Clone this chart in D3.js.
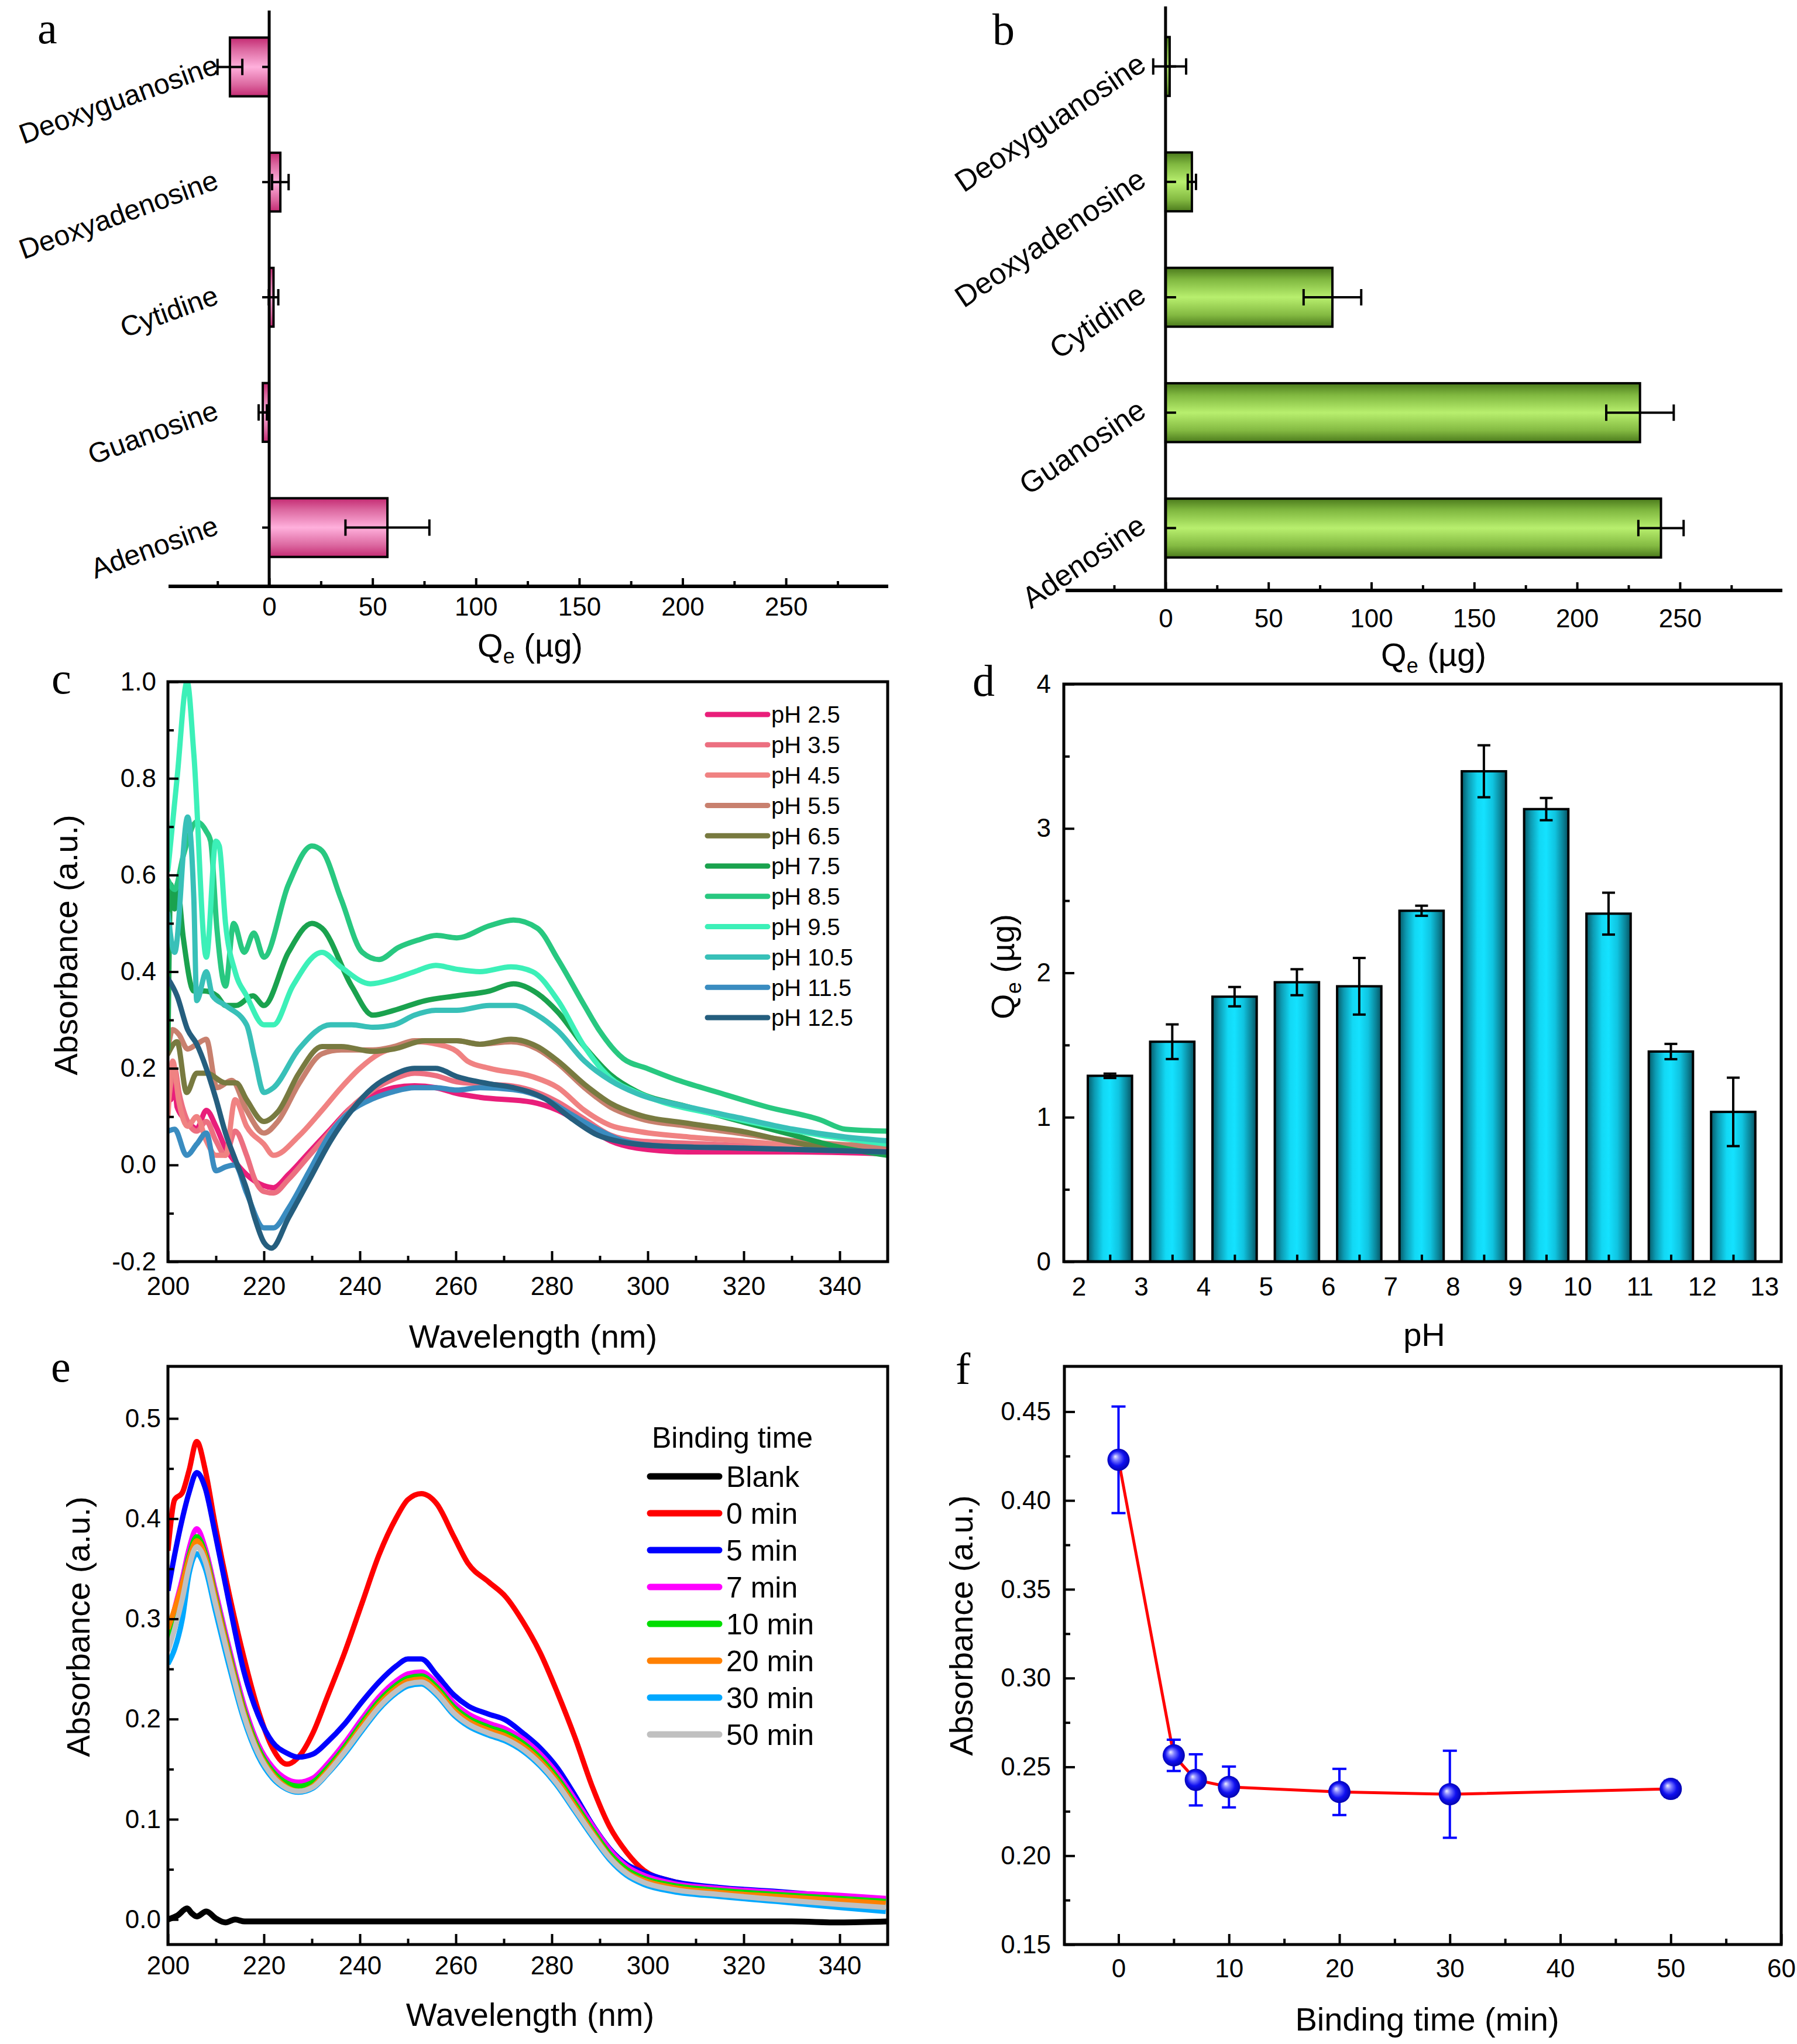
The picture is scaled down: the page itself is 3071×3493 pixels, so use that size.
<!DOCTYPE html>
<html><head><meta charset="utf-8">
<script src="https://cdn.jsdelivr.net/npm/d3@7"></script>
<style>body{margin:0;background:#fff}</style>
</head><body>
<svg id="chart" width="3071" height="3493" xmlns="http://www.w3.org/2000/svg"></svg>
<script>
// ---------------- DATA ----------------
const nucleosides = ["Deoxyguanosine","Deoxyadenosine","Cytidine","Guanosine","Adenosine"];
const qeA  = [-19, 5.4, 2.1, -3.1, 57.2];
const errA = [6, 4, 2.3, 2, 20.3];
const qeB  = [2, 12.8, 81.1, 230.6, 240.8];
const errB = [8, 2, 14, 16.4, 11];
const qeTicks = [0, 50, 100, 150, 200, 250];

const pHValues = [2.5,3.5,4.5,5.5,6.5,7.5,8.5,9.5,10.5,11.5,12.5];
const qePH  = [1.287,1.523,1.835,1.935,1.907,2.43,3.396,3.134,2.41,1.455,1.037];
const errPH = [0.015,0.12,0.067,0.09,0.196,0.035,0.18,0.077,0.145,0.053,0.237];
const pHTicks = [2,3,4,5,6,7,8,9,10,11,12,13];

const bindingTimes = [0,5,7,10,20,30,50];
const absTime = [0.4229,0.2565,0.2427,0.2387,0.2359,0.2346,0.2376];
const errTime = [0.03,0.0088,0.0144,0.0115,0.013,0.0245,0.0045];

// panel c spectra [wavelength, absorbance]
const ph25 = [[200,0.145],[200.6,0.135],[201.4,0.17],[201.9,0.12],[204.1,0.09],[206,0.075],[208,0.113],[210,0.08],[212,0.035],[214.2,0.004],[216.4,-0.02],[220,-0.043],[222,-0.047],[225.1,-0.02],[229.5,0.027],[233.9,0.074],[238.3,0.12],[242.7,0.145],[247.1,0.16],[251.4,0.164],[255.8,0.16],[260.2,0.148],[265,0.14],[275.9,0.13],[281.3,0.113],[286.8,0.082],[292.2,0.05],[297.7,0.035],[308.5,0.027],[330,0.027],[350,0.023]];
const ph35 = [[200,0.12],[201.4,0.2],[202.3,0.15],[204.1,0.09],[206,0.07],[208,0.09],[210,0.05],[212,0.02],[214,0.07],[216.4,0.02],[218.1,-0.03],[220,-0.055],[222,-0.058],[225.1,-0.03],[229.5,0.02],[233.9,0.07],[238.3,0.12],[242.7,0.155],[247.1,0.178],[251.4,0.19],[255.8,0.185],[260.2,0.172],[265,0.168],[272,0.163],[277,0.15],[281.3,0.13],[286.8,0.095],[292.2,0.062],[297.7,0.05],[308.5,0.045],[320,0.04],[335,0.033],[350,0.03]];
const ph45 = [[200,0.1],[201,0.215],[202.3,0.13],[204.1,0.08],[206,0.1],[208,0.05],[210,0.02],[212,0.02],[214,0.135],[216.4,0.08],[220,0.043],[222,0.02],[227.3,0.06],[232.1,0.113],[236.1,0.16],[240,0.2],[244,0.23],[248,0.245],[252,0.255],[256,0.25],[260.2,0.235],[262.4,0.215],[267,0.2],[275.9,0.183],[281.3,0.16],[286.8,0.113],[292.2,0.082],[297.7,0.07],[308.5,0.058],[319.4,0.05],[330.3,0.04],[341.2,0.031],[350,0.027]];
const ph55 = [[200,0.24],[201,0.28],[202.3,0.27],[204.1,0.24],[206,0.25],[208,0.26],[210.2,0.16],[213.3,0.175],[216.4,0.113],[220,0.066],[222.9,0.09],[227.3,0.168],[232.1,0.23],[236.1,0.238],[242.7,0.238],[247.1,0.245],[251.4,0.257],[260.2,0.257],[265,0.25],[271.5,0.255],[277,0.24],[281.3,0.21],[286.8,0.16],[292.2,0.12],[297.7,0.098],[308.5,0.08],[319.4,0.065],[330.3,0.05],[341.2,0.042],[350,0.04]];
const ph65 = [[200,0.23],[201.9,0.255],[203.9,0.15],[206,0.19],[208,0.19],[212,0.17],[214.2,0.17],[216.4,0.135],[220,0.09],[222.9,0.11],[227.3,0.19],[232.1,0.245],[236.1,0.245],[242.7,0.235],[247.1,0.24],[253.6,0.257],[260.2,0.257],[265,0.25],[271.5,0.26],[277,0.245],[281.3,0.215],[286.8,0.167],[292.2,0.128],[297.7,0.105],[308.5,0.086],[319.4,0.07],[330.3,0.047],[341.2,0.031],[350,0.027]];
const ph75 = [[200,0.24],[200.6,0.58],[201.4,0.53],[201.9,0.58],[203.2,0.47],[205.4,0.36],[207.6,0.36],[210.2,0.35],[212,0.33],[214.2,0.33],[217.7,0.35],[220,0.33],[225.1,0.44],[230,0.5],[232.1,0.49],[238.3,0.37],[242.7,0.31],[247.1,0.32],[253.6,0.34],[260.2,0.35],[267,0.36],[272,0.375],[277,0.355],[281.3,0.316],[286.8,0.245],[292.2,0.187],[297.7,0.152],[308.5,0.12],[319.4,0.09],[330.3,0.062],[338.5,0.04],[350,0.02]];
const ph85 = [[200,0.59],[201.4,0.57],[203.2,0.64],[206,0.71],[208,0.69],[208.9,0.67],[210.2,0.49],[212,0.37],[213.7,0.5],[215.9,0.44],[217.9,0.48],[220,0.43],[225.1,0.58],[230,0.66],[232.1,0.65],[236.1,0.55],[240.5,0.44],[244,0.425],[248,0.45],[252,0.465],[256,0.475],[260.2,0.47],[267,0.495],[272,0.507],[277,0.49],[281.3,0.425],[286.8,0.33],[290,0.277],[294.9,0.22],[299.8,0.2],[306.4,0.175],[314,0.152],[324.9,0.12],[335.8,0.094],[341.2,0.074],[350,0.07]];
const ph95 = [[200,0.61],[201.9,0.8],[204,1.0],[205.4,0.85],[208,0.43],[210,0.67],[210.7,0.66],[212,0.5],[214,0.4],[216.4,0.35],[220,0.29],[222,0.29],[226,0.37],[232.1,0.44],[236,0.41],[242.2,0.375],[247,0.385],[251.4,0.4],[255.8,0.413],[260.2,0.405],[265,0.4],[271.5,0.41],[276,0.4],[281.3,0.34],[286.8,0.245],[292.2,0.18],[297.7,0.15],[303.1,0.13],[314,0.105],[324.9,0.082],[335.8,0.062],[350,0.043]];
const ph105 = [[200,0.52],[201.4,0.44],[204.1,0.72],[205.4,0.55],[206,0.34],[208,0.4],[209.3,0.35],[212,0.33],[216.4,0.29],[218.1,0.22],[220,0.15],[222,0.16],[227.3,0.24],[233.9,0.29],[238.3,0.29],[242.7,0.285],[247.1,0.29],[251.4,0.31],[255.8,0.32],[260.2,0.32],[267,0.33],[272,0.33],[277,0.31],[281.3,0.277],[286.8,0.215],[292.2,0.175],[297.7,0.148],[308.5,0.12],[319.4,0.097],[330.3,0.074],[341.2,0.058],[350,0.05]];
const ph115 = [[200,0.07],[201.4,0.074],[203.9,0.02],[206,0.043],[208,0.066],[210,-0.012],[212,-0.004],[214,0],[216.4,-0.058],[220,-0.13],[222,-0.13],[225.1,-0.09],[229.5,-0.012],[233.9,0.066],[238.3,0.113],[242.7,0.137],[247.1,0.152],[251.4,0.16],[255.8,0.16],[260.2,0.155],[265,0.16],[272,0.156],[278.6,0.137],[284,0.105],[289.5,0.074],[294.9,0.05],[303.1,0.039],[319.4,0.035],[350,0.027]];
const ph125 = [[200,0.386],[201.9,0.35],[204.1,0.28],[206,0.25],[208,0.2],[210,0.137],[212,0.066],[214,0.012],[216.4,-0.05],[218.1,-0.11],[220,-0.16],[221.6,-0.172],[225.1,-0.11],[229.5,-0.03],[233.9,0.05],[238.3,0.113],[242.7,0.16],[247.1,0.187],[251.4,0.2],[255.8,0.2],[260.2,0.183],[267,0.168],[272,0.16],[278.6,0.137],[284,0.097],[289.5,0.062],[294.9,0.047],[303.1,0.039],[319.4,0.035],[350,0.027]];
const phLabels = ["pH 2.5","pH 3.5","pH 4.5","pH 5.5","pH 6.5","pH 7.5","pH 8.5","pH 9.5","pH 10.5","pH 11.5","pH 12.5"];
const phColors = ["#e91e7a","#ec6f80","#f08282","#c8806e","#787a40","#1aa24e","#28c880","#3cf0b8","#38c0b8","#3a8cc0","#255e7e"];

// panel e spectra
const blank = [[200,0],[202,0.004],[204,0.011],[205,0.006],[206,0.003],[208,0.008],[210,0.001],[212,-0.003],[214,0],[216,-0.002],[230,-0.002],[260,-0.002],[300,-0.002],[330,-0.002],[340,-0.003],[350,-0.002]];
const min0 = [[200,0.368],[201.4,0.419],[203,0.426],[204.4,0.448],[206,0.477],[207.8,0.448],[209.8,0.395],[212.8,0.324],[215.8,0.262],[218.8,0.209],[221.8,0.171],[224.8,0.155],[227.2,0.162],[230.2,0.186],[233.2,0.222],[236.8,0.266],[240.4,0.315],[244,0.364],[247.6,0.401],[250,0.419],[252.8,0.425],[256,0.415],[259.6,0.382],[262.6,0.355],[266.8,0.337],[270.4,0.322],[274,0.297],[277.6,0.266],[281.2,0.226],[284.8,0.182],[288.4,0.133],[292,0.093],[295.6,0.067],[299.2,0.049],[305.2,0.038],[314.8,0.031],[326.8,0.027],[340,0.022],[349.6,0.02]];
const min5 = [[200,0.328],[201.4,0.364],[203,0.4],[204.4,0.426],[206,0.446],[207.8,0.43],[209.8,0.386],[212.8,0.315],[215.8,0.248],[218.8,0.204],[221.8,0.177],[224.8,0.166],[227.2,0.162],[230.2,0.165],[233.2,0.177],[236.8,0.195],[240.4,0.217],[244,0.237],[247.6,0.253],[250,0.26],[252.8,0.26],[256,0.244],[259.6,0.224],[262.6,0.213],[266.8,0.205],[270.4,0.199],[274,0.186],[277.6,0.171],[281.2,0.151],[284.8,0.124],[288.4,0.095],[292,0.071],[295.6,0.055],[299.2,0.047],[305.2,0.038],[314.8,0.032],[326.8,0.028],[340,0.023],[349.6,0.02]];
const min7 = [[200,0.28],[201.4,0.31],[203,0.34],[204.4,0.37],[206,0.39],[207.8,0.37],[209.8,0.33],[212.8,0.27],[215.8,0.215],[218.8,0.175],[221.8,0.152],[224.8,0.14],[227.2,0.137],[230.2,0.141],[233.2,0.155],[236.8,0.176],[240.4,0.2],[244,0.222],[247.6,0.238],[250,0.245],[252.8,0.247],[256,0.236],[259.6,0.216],[262.6,0.205],[266.8,0.196],[270.4,0.19],[274,0.18],[277.6,0.165],[281.2,0.145],[284.8,0.12],[288.4,0.094],[292,0.07],[295.6,0.053],[299.2,0.044],[305.2,0.036],[314.8,0.031],[326.8,0.027],[340,0.024],[349.6,0.021]];
const min10 = [[200,0.275],[201.4,0.305],[203,0.335],[204.4,0.363],[206,0.382],[207.8,0.365],[209.8,0.325],[212.8,0.265],[215.8,0.21],[218.8,0.171],[221.8,0.148],[224.8,0.136],[227.2,0.133],[230.2,0.137],[233.2,0.151],[236.8,0.172],[240.4,0.196],[244,0.218],[247.6,0.234],[250,0.241],[252.8,0.243],[256,0.232],[259.6,0.212],[262.6,0.201],[266.8,0.192],[270.4,0.186],[274,0.176],[277.6,0.161],[281.2,0.141],[284.8,0.116],[288.4,0.09],[292,0.066],[295.6,0.05],[299.2,0.041],[305.2,0.034],[314.8,0.029],[326.8,0.025],[340,0.021],[349.6,0.018]];
const min20 = [[200,0.29],[201.4,0.31],[203,0.335],[204.4,0.36],[206,0.378],[207.8,0.362],[209.8,0.322],[212.8,0.262],[215.8,0.207],[218.8,0.168],[221.8,0.145],[224.8,0.132],[227.2,0.128],[230.2,0.133],[233.2,0.148],[236.8,0.169],[240.4,0.193],[244,0.215],[247.6,0.231],[250,0.238],[252.8,0.24],[256,0.229],[259.6,0.209],[262.6,0.198],[266.8,0.189],[270.4,0.183],[274,0.173],[277.6,0.158],[281.2,0.138],[284.8,0.113],[288.4,0.087],[292,0.063],[295.6,0.047],[299.2,0.039],[305.2,0.032],[314.8,0.027],[326.8,0.023],[340,0.019],[349.6,0.016]];
const min30 = [[200,0.255],[201.4,0.27],[203,0.3],[204.4,0.345],[206,0.365],[207.8,0.35],[209.8,0.31],[212.8,0.252],[215.8,0.2],[218.8,0.163],[221.8,0.141],[224.8,0.13],[227.2,0.127],[230.2,0.131],[233.2,0.145],[236.8,0.165],[240.4,0.188],[244,0.21],[247.6,0.226],[250,0.233],[252.8,0.235],[256,0.224],[259.6,0.204],[262.6,0.193],[266.8,0.184],[270.4,0.178],[274,0.168],[277.6,0.153],[281.2,0.133],[284.8,0.108],[288.4,0.083],[292,0.06],[295.6,0.044],[299.2,0.035],[305.2,0.028],[314.8,0.023],[326.8,0.018],[340,0.012],[349.6,0.008]];
const min50 = [[200,0.268],[201.4,0.29],[203,0.32],[204.4,0.352],[206,0.372],[207.8,0.357],[209.8,0.317],[212.8,0.258],[215.8,0.204],[218.8,0.166],[221.8,0.143],[224.8,0.131],[227.2,0.128],[230.2,0.132],[233.2,0.146],[236.8,0.167],[240.4,0.19],[244,0.212],[247.6,0.228],[250,0.235],[252.8,0.237],[256,0.226],[259.6,0.206],[262.6,0.195],[266.8,0.186],[270.4,0.18],[274,0.17],[277.6,0.155],[281.2,0.135],[284.8,0.11],[288.4,0.085],[292,0.062],[295.6,0.046],[299.2,0.037],[305.2,0.03],[314.8,0.025],[326.8,0.02],[340,0.015],[349.6,0.012]];
const timeLabels = ["Blank","0 min","5 min","7 min","10 min","20 min","30 min","50 min"];
const timeColors = ["#000000","#ff0000","#0000ff","#ff00ff","#00dd00","#ff8000","#00a8ff","#c0c0c0"];

// ---------------- DRAWING ----------------
const FONT = '"Liberation Sans", Arial, "DejaVu Sans", sans-serif';
const SERIF = '"Liberation Serif", "Times New Roman", serif';
const svg = d3.select("#chart");
svg.append("rect").attr("width",3071).attr("height",3493).attr("fill","#fff");
const defs = svg.append("defs");

function linGrad(id, x2, y2, stops){
  const g = defs.append("linearGradient").attr("id",id).attr("x1",0).attr("y1",0).attr("x2",x2).attr("y2",y2);
  stops.forEach(s=>g.append("stop").attr("offset",s[0]).attr("stop-color",s[1]));
}
linGrad("gPink",0,1,[[0,"#c42a72"],[0.2,"#dc68a0"],[0.5,"#ffb0dc"],[0.8,"#dc68a0"],[1,"#c42a72"]]);
linGrad("gGreen",0,1,[[0,"#4b7a1c"],[0.2,"#80b840"],[0.5,"#b8ef6e"],[0.8,"#84ba42"],[1,"#4b7a1c"]]);
linGrad("gCyan",1,0,[[0,"#065a68"],[0.15,"#0c9ab2"],[0.35,"#12d8f4"],[0.5,"#14e2ff"],[0.7,"#10c4e0"],[0.88,"#0a8498"],[1,"#065262"]]);
const rg = defs.append("radialGradient").attr("id","gBall").attr("cx","50%").attr("cy","50%").attr("fx","35%").attr("fy","35%").attr("r","55%");
[[0,"#f0f0ff"],[0.25,"#8080ff"],[0.6,"#1010f0"],[1,"#0000a0"]].forEach(s=>rg.append("stop").attr("offset",s[0]).attr("stop-color",s[1]));

function styleAxis(g, fs){
  g.attr("font-family",FONT).attr("font-size",fs);
  g.select(".domain").remove();
  g.selectAll(".tick line").attr("stroke","#000").attr("stroke-width",4);
  g.selectAll(".tick text").attr("fill","#000");
  return g;
}
function qeLabel(sel, x, y, rot){
  const t = sel.append("text").attr("font-family",FONT).attr("font-size",56).attr("text-anchor","middle")
    .attr("transform",`translate(${x},${y})`+(rot?` rotate(${rot})`:""));
  t.append("tspan").text("Q");
  t.append("tspan").attr("font-size",36).attr("dy",12).text("e");
  t.append("tspan").attr("dy",-12).text(" (µg)");
}
function letter(x,y,s){ svg.append("text").attr("x",x).attr("y",y).attr("font-family",SERIF).attr("font-size",76).text(s); }
function title(x,y,s,rot){
  svg.append("text").attr("font-family",FONT).attr("font-size",56).attr("text-anchor","middle")
    .attr("transform",`translate(${x},${y})`+(rot?` rotate(${rot})`:"")).text(s);
}

// ===== Panels a & b: horizontal bars =====
function hbarPanel(opt){
  const {x0,x1,d0,d1,yTop,yBot,bTop,bBot,vals,errs,grad,labelDx,labelDy,rot,tickOut,titleX,titleY,labPad,labFs} = opt;
  const x = d3.scaleLinear().domain([d0,d1]).range([x0,x1]);
  const y = d3.scaleBand().domain(nucleosides).range([bTop,bBot]).paddingInner(0.49).paddingOuter(0.245);
  const g = svg.append("g");
  g.selectAll("rect.bar").data(nucleosides).join("rect")
    .attr("x",(d,i)=>x(Math.min(0,vals[i]))).attr("y",d=>y(d))
    .attr("width",(d,i)=>Math.abs(x(vals[i])-x(0))).attr("height",y.bandwidth())
    .attr("fill",`url(#${grad})`).attr("stroke","#000").attr("stroke-width",4);
  nucleosides.forEach((d,i)=>{
    const cy = y(d)+y.bandwidth()/2;
    const xa = x(vals[i]-errs[i]), xb = x(vals[i]+errs[i]);
    g.append("line").attr("x1",xa).attr("x2",xb).attr("y1",cy).attr("y2",cy).attr("stroke","#000").attr("stroke-width",4);
    [xa,xb].forEach(xx=>g.append("line").attr("x1",xx).attr("x2",xx).attr("y1",cy-14).attr("y2",cy+14).attr("stroke","#000").attr("stroke-width",4));
  });
  g.append("line").attr("x1",x0).attr("x2",x1).attr("y1",yBot).attr("y2",yBot).attr("stroke","#000").attr("stroke-width",6);
  g.append("line").attr("x1",x(0)).attr("x2",x(0)).attr("y1",yTop).attr("y2",yBot).attr("stroke","#000").attr("stroke-width",5);
  styleAxis(g.append("g").attr("transform",`translate(0,${yBot})`)
    .call(d3.axisBottom(x).tickValues(qeTicks).tickSize(-14).tickPadding(labPad)), 44);
  styleAxis(g.append("g").attr("transform",`translate(0,${yBot})`)
    .call(d3.axisBottom(x).tickValues(d3.range(-25,300,50)).tickSize(-9).tickFormat("")), 44);
  styleAxis(g.append("g").attr("transform",`translate(${x(0)},0)`)
    .call(d3.axisLeft(y).tickSize(tickOut).tickFormat("")), 44);
  nucleosides.forEach(d=>{
    const cy = y(d)+y.bandwidth()/2;
    g.append("text").attr("font-family",FONT).attr("font-size",labFs).attr("text-anchor","end")
      .attr("transform",`translate(${x(0)+labelDx},${cy+labelDy}) rotate(${rot})`).text(d);
  });
  qeLabel(svg, titleX, titleY);
}
hbarPanel({x0:288,x1:1518,d0:-48.7,d1:299.5,yTop:18,yBot:1002,bTop:16,bBot:1000,vals:qeA,errs:errA,grad:"gPink",
  labelDx:-84,labelDy:10,rot:-20,tickOut:12,titleX:906,titleY:1122,labPad:19,labFs:48});
hbarPanel({x0:1821,x1:3046,d0:-48.6,d1:299.8,yTop:11,yBot:1009,bTop:15,bBot:1001,vals:qeB,errs:errB,grad:"gGreen",
  labelDx:-30,labelDy:4,rot:-34,tickOut:-18,titleX:2450,titleY:1138,labPad:32,labFs:51});
letter(64,74,"a"); letter(1696,76,"b");

function frame(x0,y0,x1,y1){
  svg.append("rect").attr("x",x0).attr("y",y0).attr("width",x1-x0).attr("height",y1-y0)
    .attr("fill","none").attr("stroke","#000").attr("stroke-width",5);
}
const fmt1 = d=>d.toFixed(1), fmt2 = d=>d.toFixed(2), fmt0 = d=>String(d);

// ===== Panel c =====
{
  const x = d3.scaleLinear().domain([200,350]).range([287,1517]);
  const y = d3.scaleLinear().domain([-0.2,1.0]).range([2156,1165]);
  defs.append("clipPath").attr("id","clipC").append("rect").attr("x",287).attr("y",1165).attr("width",1230).attr("height",991);
  const line = d3.line().x(d=>x(d[0])).y(d=>y(d[1])).curve(d3.curveMonotoneX);
  const series = [ph25,ph35,ph45,ph55,ph65,ph75,ph85,ph95,ph105,ph115,ph125];
  svg.append("g").attr("clip-path","url(#clipC)").selectAll("path").data(series).join("path")
    .attr("d",line).attr("fill","none").attr("stroke",(d,i)=>phColors[i]).attr("stroke-width",9)
    .attr("stroke-linejoin","round").attr("stroke-linecap","round");
  styleAxis(svg.append("g").attr("transform","translate(0,2156)").call(d3.axisBottom(x).tickValues(d3.range(200,341,20)).tickSize(-18).tickPadding(26)),44);
  styleAxis(svg.append("g").attr("transform","translate(0,2156)").call(d3.axisBottom(x).tickValues(d3.range(210,341,20)).tickSize(-10).tickFormat("")),44);
  styleAxis(svg.append("g").attr("transform","translate(287,0)").call(d3.axisLeft(y).tickValues([-0.2,0,0.2,0.4,0.6,0.8,1.0]).tickFormat(fmt1).tickSize(-18).tickPadding(20)),44);
  styleAxis(svg.append("g").attr("transform","translate(287,0)").call(d3.axisLeft(y).tickValues([-0.1,0.1,0.3,0.5,0.7,0.9]).tickSize(-10).tickFormat("")),44);
  frame(287,1165,1517,2156);
  const lg = svg.append("g");
  phLabels.forEach((s,i)=>{
    const ry = 1221 + i*51.8;
    lg.append("line").attr("x1",1209).attr("x2",1312).attr("y1",ry).attr("y2",ry).attr("stroke",phColors[i]).attr("stroke-width",9).attr("stroke-linecap","round");
    lg.append("text").attr("x",1318).attr("y",ry).attr("dy","0.36em").attr("font-family",FONT).attr("font-size",40).text(s);
  });
  title(911,2303,"Wavelength (nm)");
  title(132,1615,"Absorbance (a.u.)",-90);
  letter(88,1185,"c");
}

// ===== Panel d =====
{
  const x = d3.scaleLinear().domain([1.76,13.27]).range([1818,3044]);
  const y = d3.scaleLinear().domain([0,4]).range([2156,1169]);
  const hw = 0.355;
  svg.append("g").selectAll("rect").data(pHValues).join("rect")
    .attr("x",d=>x(d-hw)).attr("width",d=>x(d+hw)-x(d-hw))
    .attr("y",(d,i)=>y(qePH[i])).attr("height",(d,i)=>y(0)-y(qePH[i]))
    .attr("fill","url(#gCyan)").attr("stroke","#000").attr("stroke-width",4);
  const eg = svg.append("g");
  pHValues.forEach((p,i)=>{
    const cx = x(p), ya = y(qePH[i]-errPH[i]), yb = y(qePH[i]+errPH[i]);
    eg.append("line").attr("x1",cx).attr("x2",cx).attr("y1",ya).attr("y2",yb).attr("stroke","#000").attr("stroke-width",4);
    [ya,yb].forEach(yy=>eg.append("line").attr("x1",cx-11).attr("x2",cx+11).attr("y1",yy).attr("y2",yy).attr("stroke","#000").attr("stroke-width",4));
  });
  styleAxis(svg.append("g").attr("transform","translate(0,2156)").call(d3.axisBottom(x).tickValues(pHValues).tickSize(-12).tickFormat("")),44);
  styleAxis(svg.append("g").attr("transform","translate(0,2156)").call(d3.axisBottom(x).tickValues(pHTicks).tickSize(0).tickPadding(27)),44);
  styleAxis(svg.append("g").attr("transform","translate(1818,0)").call(d3.axisLeft(y).tickValues([0,1,2,3,4]).tickFormat(fmt0).tickSize(-18).tickPadding(22)),44);
  styleAxis(svg.append("g").attr("transform","translate(1818,0)").call(d3.axisLeft(y).tickValues([0.5,1.5,2.5,3.5]).tickSize(-10).tickFormat("")),44);
  frame(1818,1169,3044,2156);
  title(2434,2300,"pH");
  qeLabel(svg,1733,1652,-90);
  letter(1662,1189,"d");
}

// ===== Panel e =====
{
  const x = d3.scaleLinear().domain([200,350]).range([287,1517]);
  const y = d3.scaleLinear().domain([-0.025,0.552]).range([3323,2335]);
  defs.append("clipPath").attr("id","clipE").append("rect").attr("x",287).attr("y",2335).attr("width",1230).attr("height",988);
  const line = d3.line().x(d=>x(d[0])).y(d=>y(d[1])).curve(d3.curveMonotoneX);
  const series = [blank,min0,min5,min7,min10,min20,min30,min50];
  svg.append("g").attr("clip-path","url(#clipE)").selectAll("path").data(series).join("path")
    .attr("d",line).attr("fill","none").attr("stroke",(d,i)=>timeColors[i]).attr("stroke-width",(d,i)=>i===0?10:9)
    .attr("stroke-linejoin","round");
  styleAxis(svg.append("g").attr("transform","translate(0,3323)").call(d3.axisBottom(x).tickValues(d3.range(200,341,20)).tickSize(-18).tickPadding(20)),44);
  styleAxis(svg.append("g").attr("transform","translate(0,3323)").call(d3.axisBottom(x).tickValues(d3.range(210,341,20)).tickSize(-10).tickFormat("")),44);
  styleAxis(svg.append("g").attr("transform","translate(287,0)").call(d3.axisLeft(y).tickValues([0,0.1,0.2,0.3,0.4,0.5]).tickFormat(fmt1).tickSize(-18).tickPadding(12)),44);
  styleAxis(svg.append("g").attr("transform","translate(287,0)").call(d3.axisLeft(y).tickValues([0.05,0.15,0.25,0.35,0.45]).tickSize(-10).tickFormat("")),44);
  frame(287,2335,1517,3323);
  const lg = svg.append("g");
  lg.append("text").attr("x",1114).attr("y",2474).attr("font-family",FONT).attr("font-size",50).text("Binding time");
  timeLabels.forEach((s,i)=>{
    const ry = 2523 + i*63;
    lg.append("line").attr("x1",1111).attr("x2",1229).attr("y1",ry).attr("y2",ry).attr("stroke",timeColors[i]).attr("stroke-width",11).attr("stroke-linecap","round");
    lg.append("text").attr("x",1241).attr("y",ry).attr("dy","0.36em").attr("font-family",FONT).attr("font-size",50).text(s);
  });
  title(906,3462,"Wavelength (nm)");
  title(153,2780,"Absorbance (a.u.)",-90);
  letter(87,2361,"e");
}

// ===== Panel f =====
{
  const x = d3.scaleLinear().domain([-4.9,60]).range([1819,3044]);
  const y = d3.scaleLinear().domain([0.15,0.4755]).range([3323,2335]);
  const pts = bindingTimes.map((t,i)=>[t,absTime[i]]);
  svg.append("path").datum(pts).attr("d",d3.line().x(d=>x(d[0])).y(d=>y(d[1])))
    .attr("fill","none").attr("stroke","#ff0000").attr("stroke-width",5);
  const eg = svg.append("g");
  bindingTimes.forEach((t,i)=>{
    const cx = x(t), ya = y(absTime[i]-errTime[i]), yb = y(absTime[i]+errTime[i]);
    eg.append("line").attr("x1",cx).attr("x2",cx).attr("y1",ya).attr("y2",yb).attr("stroke","#0000ff").attr("stroke-width",4);
    [ya,yb].forEach(yy=>eg.append("line").attr("x1",cx-12).attr("x2",cx+12).attr("y1",yy).attr("y2",yy).attr("stroke","#0000ff").attr("stroke-width",4));
  });
  svg.append("g").selectAll("circle").data(pts).join("circle")
    .attr("cx",d=>x(d[0])).attr("cy",d=>y(d[1])).attr("r",19).attr("fill","url(#gBall)");
  styleAxis(svg.append("g").attr("transform","translate(0,3323)").call(d3.axisBottom(x).tickValues([0,10,20,30,40,50,60]).tickSize(-18).tickPadding(25)),44);
  styleAxis(svg.append("g").attr("transform","translate(0,3323)").call(d3.axisBottom(x).tickValues([5,15,25,35,45,55]).tickSize(-10).tickFormat("")),44);
  styleAxis(svg.append("g").attr("transform","translate(1819,0)").call(d3.axisLeft(y).tickValues([0.15,0.2,0.25,0.3,0.35,0.4,0.45]).tickFormat(fmt2).tickSize(-18).tickPadding(23)),44);
  styleAxis(svg.append("g").attr("transform","translate(1819,0)").call(d3.axisLeft(y).tickValues([0.175,0.225,0.275,0.325,0.375,0.425]).tickSize(-10).tickFormat("")),44);
  frame(1819,2335,3044,3323);
  title(2439,3470,"Binding time (min)");
  title(1662,2778,"Absorbance (a.u.)",-90);
  letter(1633,2365,"f");
}
</script>
</body></html>
